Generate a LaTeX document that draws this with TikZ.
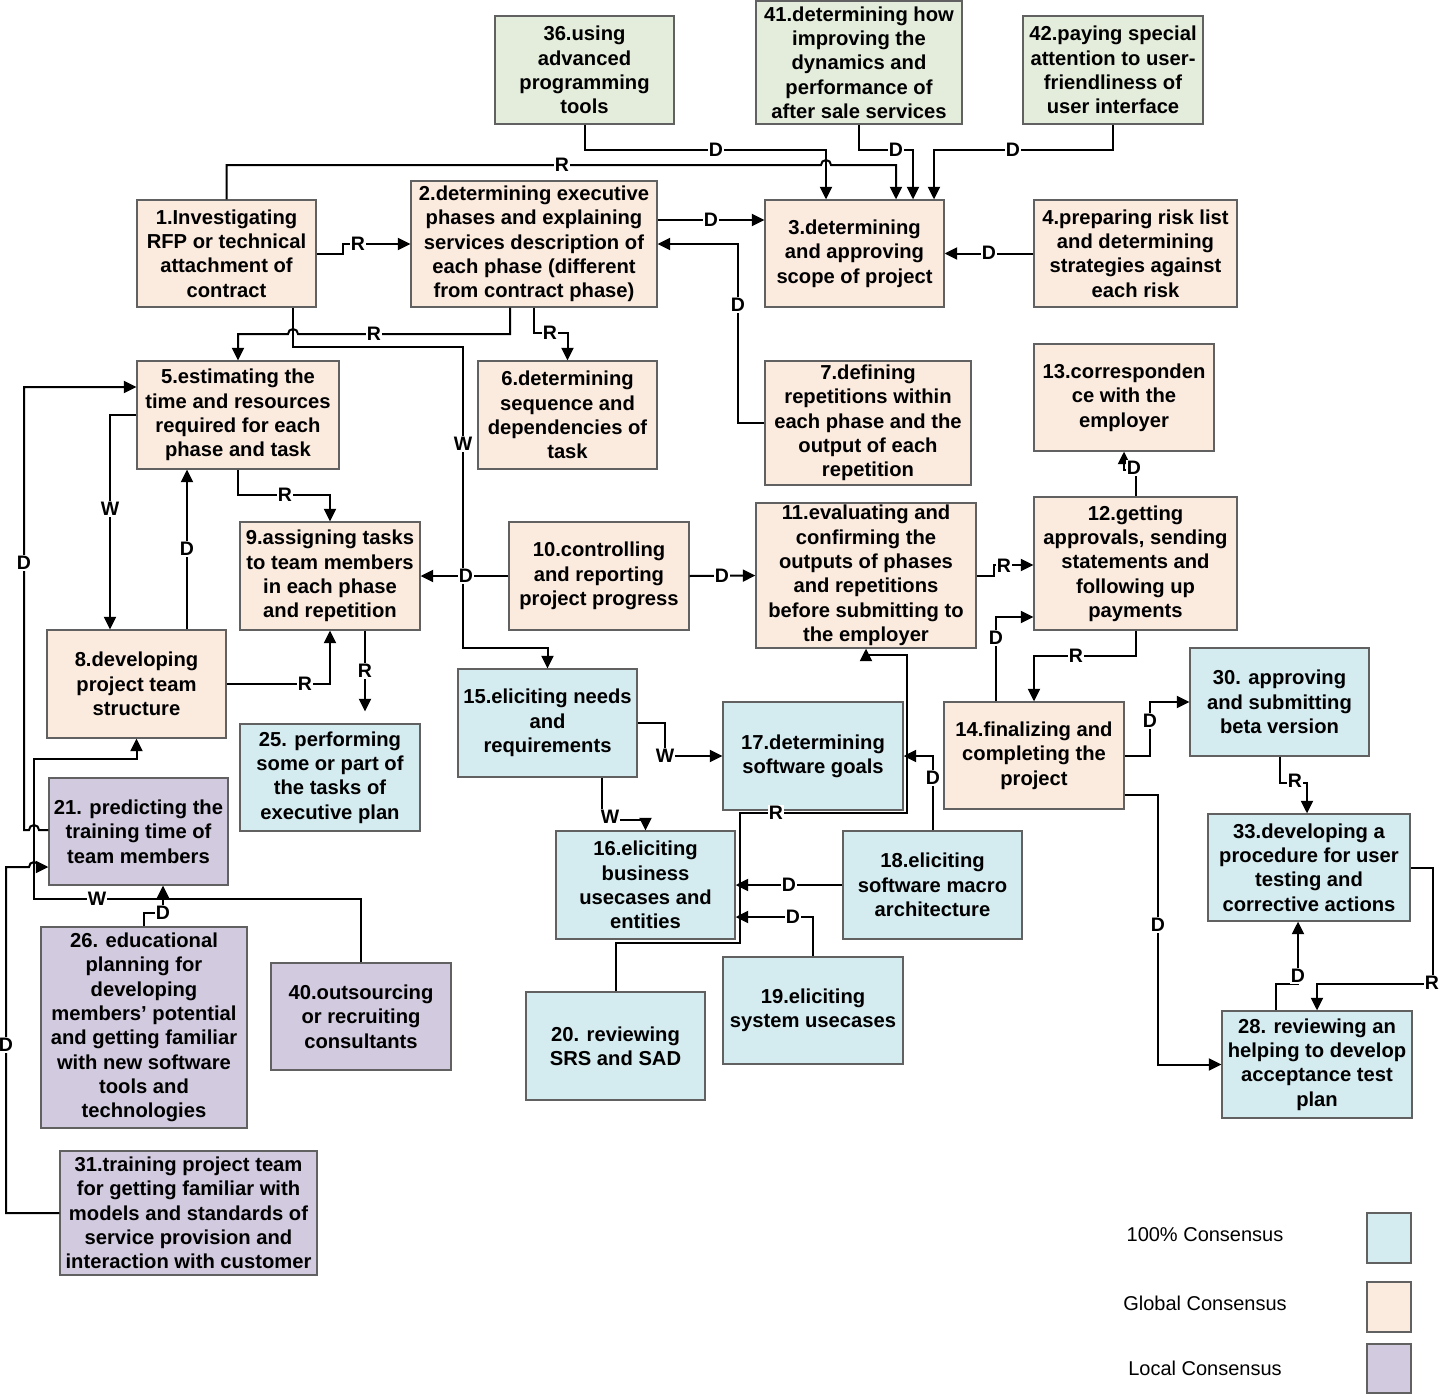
\documentclass[tikz,border=0pt]{standalone}
\usepackage{fontspec}
\setmainfont{Liberation Sans}
\usetikzlibrary{arrows.meta}
\definecolor{cpeach}{RGB}{251,234,222}
\definecolor{cblue}{RGB}{212,235,240}
\definecolor{cgreen}{RGB}{228,237,220}
\definecolor{cpurple}{RGB}{210,202,222}
\newcommand{\bx}[7]{\node[box,#1,minimum width={(#5-#3)*1pt},minimum height={(#6-#4)*1pt}] (#2) at ({(#3+#5)/2},{(#4+#6)/2}) {#7};}
\begin{document}
\begin{tikzpicture}[x=1pt,y=-1pt,
  box/.style={draw=black!62,line width=1.3pt,align=center,inner sep=0pt,font=\fontsize{20.2}{24.3}\selectfont\bfseries},
  gl/.style={fill=cpeach},
  ok/.style={fill=cblue},
  gr/.style={fill=cgreen},
  lc/.style={fill=cpurple},
  conn/.style={line width=2pt,-{Triangle[length=12.5pt,width=12pt]}},
  lab/.style={fill=white,inner sep=1pt,font=\fontsize{19.5}{20}\selectfont\bfseries},
  leg/.style={font=\fontsize{20}{24}\selectfont}]
\useasboundingbox (0,0) rectangle (1440,1394);
% boxes
\bx{gr}{b36}{495}{16}{674}{124}{36.using\\advanced\\programming\\tools}
\bx{gr}{b41}{756}{1}{962}{124}{41.determining how\\improving the\\dynamics and\\performance of\\after sale services}
\bx{gr}{b42}{1023}{16}{1203}{124}{42.paying special\\attention to user-\\friendliness of\\user interface}
\bx{gl}{b1}{137}{200}{316}{307}{1.Investigating\\RFP or technical\\attachment of\\contract}
\bx{gl}{b2}{411}{181}{657}{307}{2.determining executive\\phases and explaining\\services description of\\each phase (different\\from contract phase)}
\bx{gl}{b3}{765}{200}{944}{307}{3.determining\\and approving\\scope of project}
\bx{gl}{b4}{1034}{200}{1237}{307}{4.preparing risk list\\and determining\\strategies against\\each risk}
\bx{gl}{b5}{137}{361}{339}{469}{5.estimating the\\time and resources\\required for each\\phase and task}
\bx{gl}{b6}{478}{361}{657}{469}{6.determining\\sequence and\\dependencies of\\task}
\bx{gl}{b7}{765}{361}{971}{485}{7.defining\\repetitions within\\each phase and the\\output of each\\repetition}
\bx{gl}{b13}{1034}{344}{1214}{451}{13.corresponden\\ce with the\\employer}
\bx{gl}{b9}{240}{522}{420}{630}{9.assigning tasks\\to team members\\in each phase\\and repetition}
\bx{gl}{b10}{509}{522}{689}{630}{10.controlling\\and reporting\\project progress}
\bx{gl}{b11}{756}{503}{976}{648}{11.evaluating and\\confirming the\\outputs of phases\\and  repetitions\\before submitting to\\the employer}
\bx{gl}{b12}{1034}{497}{1237}{630}{12.getting\\approvals, sending\\statements and\\following up\\payments}
\bx{gl}{b8}{47}{630}{226}{738}{8.developing\\project team\\structure}
\bx{ok}{b15}{458}{669}{637}{777}{15.eliciting needs\\and\\requirements}
\bx{ok}{b17}{723}{702}{903}{810}{17.determining\\software goals}
\bx{gl}{b14}{944}{702}{1124}{809}{14.finalizing and\\completing the\\project}
\bx{ok}{b30}{1190}{648}{1369}{756}{30. approving\\and submitting\\beta version}
\bx{ok}{b25}{240}{724}{420}{831}{25. performing\\some or part of\\the tasks of\\executive plan}
\bx{lc}{b21}{49}{778}{228}{885}{21. predicting the\\training time of\\team members}
\bx{ok}{b16}{556}{831}{735}{939}{16.eliciting\\business\\usecases and\\entities}
\bx{ok}{b18}{843}{831}{1022}{939}{18.eliciting\\software macro\\architecture}
\bx{ok}{b33}{1208}{814}{1410}{921}{33.developing a\\procedure for user\\testing and\\corrective actions}
\bx{lc}{b26}{41}{927}{247}{1128}{26. educational\\planning for\\developing\\members’ potential\\and getting familiar\\with new software\\tools and\\technologies}
\bx{lc}{b40}{271}{963}{451}{1070}{40.outsourcing\\or recruiting\\consultants}
\bx{ok}{b20}{526}{992}{705}{1100}{20. reviewing\\SRS and SAD}
\bx{ok}{b19}{723}{957}{903}{1064}{19.eliciting\\system usecases}
\bx{ok}{b28}{1222}{1011}{1412}{1118}{28. reviewing an\\helping to develop\\acceptance test\\plan}
\bx{lc}{b31}{60}{1151}{317}{1275}{31.training project team\\for getting familiar with\\models and standards of\\service provision and\\interaction with customer}
% legend
\bx{ok}{lg1}{1367}{1213}{1411}{1263}{}
\bx{gl}{lg2}{1367}{1282}{1411}{1332}{}
\bx{lc}{lg3}{1367}{1344}{1411}{1393}{}
\node[leg] (lt1) at (1205,1235) {100\% Consensus};
\node[leg] (lt2) at (1205,1303) {Global Consensus};
\node[leg] (lt3) at (1205,1368) {Local Consensus};
% connectors
\draw[conn] (b36.south) -- (584.5,150) -- (826,150) -- (826,0 |- b3.north);
\draw[conn] (b1.north) -- (226.5,165) -- (821,165) arc[start angle=180,end angle=0,radius=5pt] -- (896,165) -- (896,0 |- b3.north);
\draw[conn] (b41.south) -- (859,150) -- (913,150) -- (913,0 |- b3.north);
\draw[conn] (b42.south) -- (1113,150) -- (934,150) -- (934,0 |- b3.north);
\draw[conn] (b1.east) -- (343,253.5) -- (343,244) -- (b2.west |- 0,244);
\draw[conn] (b2.east |- 0,220) -- (b3.west |- 0,220);
\draw[conn] (b7.west) -- (738,423) -- (738,244) -- (b2.east |- 0,244);
\draw[conn] (b4.west) -- (b3.east);
\draw[conn] (b2.south) -- (534,333) -- (567.5,333) -- (b6.north);
\draw[conn] (510,0 |- b2.south) -- (510,334) -- (298,334) arc[start angle=0,end angle=180,radius=5pt] -- (238,334) -- (b5.north);
\draw[conn] (293,0 |- b1.south) -- (293,347) -- (463,347) -- (463,648) -- (547.5,648) -- (b15.north);
\draw[conn] (b10.west) -- (b9.east);
\draw[conn] (b10.east) -- (b11.west);
\draw[conn] (b11.east) -- (994,575.5) -- (994,565) -- (b12.west |- 0,565);
\draw[conn] (b12.north) -- (1135.5,470) -- (1124,470) -- (b13.south);
\draw[conn] (996,0 |- b14.north) -- (996,617) -- (b12.west |- 0,617);
\draw[conn] (b12.south) -- (1135.5,656) -- (1034,656) -- (b14.north);
\draw[conn] (b14.east) -- (1150,755.5) -- (1150,702) -- (b30.west);
\draw[conn] (b30.south) -- (1279.5,783) -- (1307,783) -- (1307,0 |- b33.north);
\draw[conn] (b14.east |- 0,795) -- (1158,795) -- (1158,1064.5) -- (b28.west);
\draw[conn] (b33.east) -- (1433,867.5) -- (1433,984) -- (1317,984) -- (b28.north);
\draw[conn] (1276,0 |- b28.north) -- (1276,984) -- (1298,984) -- (1298,0 |- b33.south);
\draw[conn] (b20.north) -- (615.5,943) -- (740,943) -- (740,813) -- (907,813) -- (907,655) -- (866,655) -- (b11.south);
\draw[conn] (b18.north) -- (932.5,756) -- (b17.east);
\draw[conn] (b18.west) -- (b16.east);
\draw[conn] (b19.north) -- (813,917) -- (b16.east |- 0,917);
\draw[conn] (b15.east) -- (665,723) -- (665,756) -- (b17.west);
\draw[conn] (602,0 |- b15.south) -- (602,820) -- (645.5,820) -- (b16.north);
\draw[conn] (b5.south) -- (238,495) -- (330,495) -- (b9.north);
\draw[conn] (187,0 |- b8.north) -- (187,0 |- b5.south);
\draw[conn] (b5.west) -- (110,415) -- (110,0 |- b8.north);
\draw[conn] (b8.east) -- (330,684) -- (b9.south);
\draw[conn,shorten >=12pt] (365,0 |- b9.south) -- (365,0 |- b25.north);
\draw[conn] (b40.north) -- (361,899) -- (34,899) -- (34,759) -- (136.5,759) -- (b8.south);
\draw[conn] (b21.west |- 0,830) -- (39,830) arc[start angle=0,end angle=180,radius=5pt] -- (24,830) -- (24,387) -- (b5.west |- 0,387);
\draw[conn] (b31.west) -- (6,1213) -- (6,867) -- (29,867) arc[start angle=180,end angle=0,radius=5pt] -- (b21.west |- 0,867);
\draw[conn] (b26.north) -- (144,913) -- (163,913) -- (163,0 |- b21.south);
% labels
\node[lab] (l1) at (716,150) {D};
\node[lab] (l2) at (562,165) {R};
\node[lab] (l3) at (896,150) {D};
\node[lab] (l4) at (1013,150) {D};
\node[lab] (l5) at (358,244) {R};
\node[lab] (l6) at (711,220) {D};
\node[lab] (l7) at (738,305) {D};
\node[lab] (l8) at (989,253) {D};
\node[lab] (l9) at (550,333) {R};
\node[lab] (l10) at (374,334) {R};
\node[lab] (l11) at (463,444) {W};
\node[lab] (l12) at (466,576) {D};
\node[lab] (l13) at (722,576) {D};
\node[lab] (l14) at (1004,566) {R};
\node[lab] (l15) at (1134,468) {D};
\node[lab] (l16) at (996,638) {D};
\node[lab] (l17) at (1076,656) {R};
\node[lab] (l18) at (1150,721) {D};
\node[lab] (l19) at (1295,781) {R};
\node[lab] (l20) at (1158,925) {D};
\node[lab] (l21) at (1432,983) {R};
\node[lab] (l22) at (1298,976) {D};
\node[lab] (l23) at (776,813) {R};
\node[lab] (l24) at (933,778) {D};
\node[lab] (l25) at (789,885) {D};
\node[lab] (l26) at (793,917) {D};
\node[lab] (l27) at (665,756) {W};
\node[lab] (l28) at (610,817) {W};
\node[lab] (l29) at (285,495) {R};
\node[lab] (l30) at (187,549) {D};
\node[lab] (l31) at (110,509) {W};
\node[lab] (l32) at (305,684) {R};
\node[lab] (l33) at (365,671) {R};
\node[lab] (l34) at (97,899) {W};
\node[lab] (l35) at (24,563) {D};
\node[lab] (l36) at (6,1045) {D};
\node[lab] (l37) at (163,913) {D};
\end{tikzpicture}
\end{document}
